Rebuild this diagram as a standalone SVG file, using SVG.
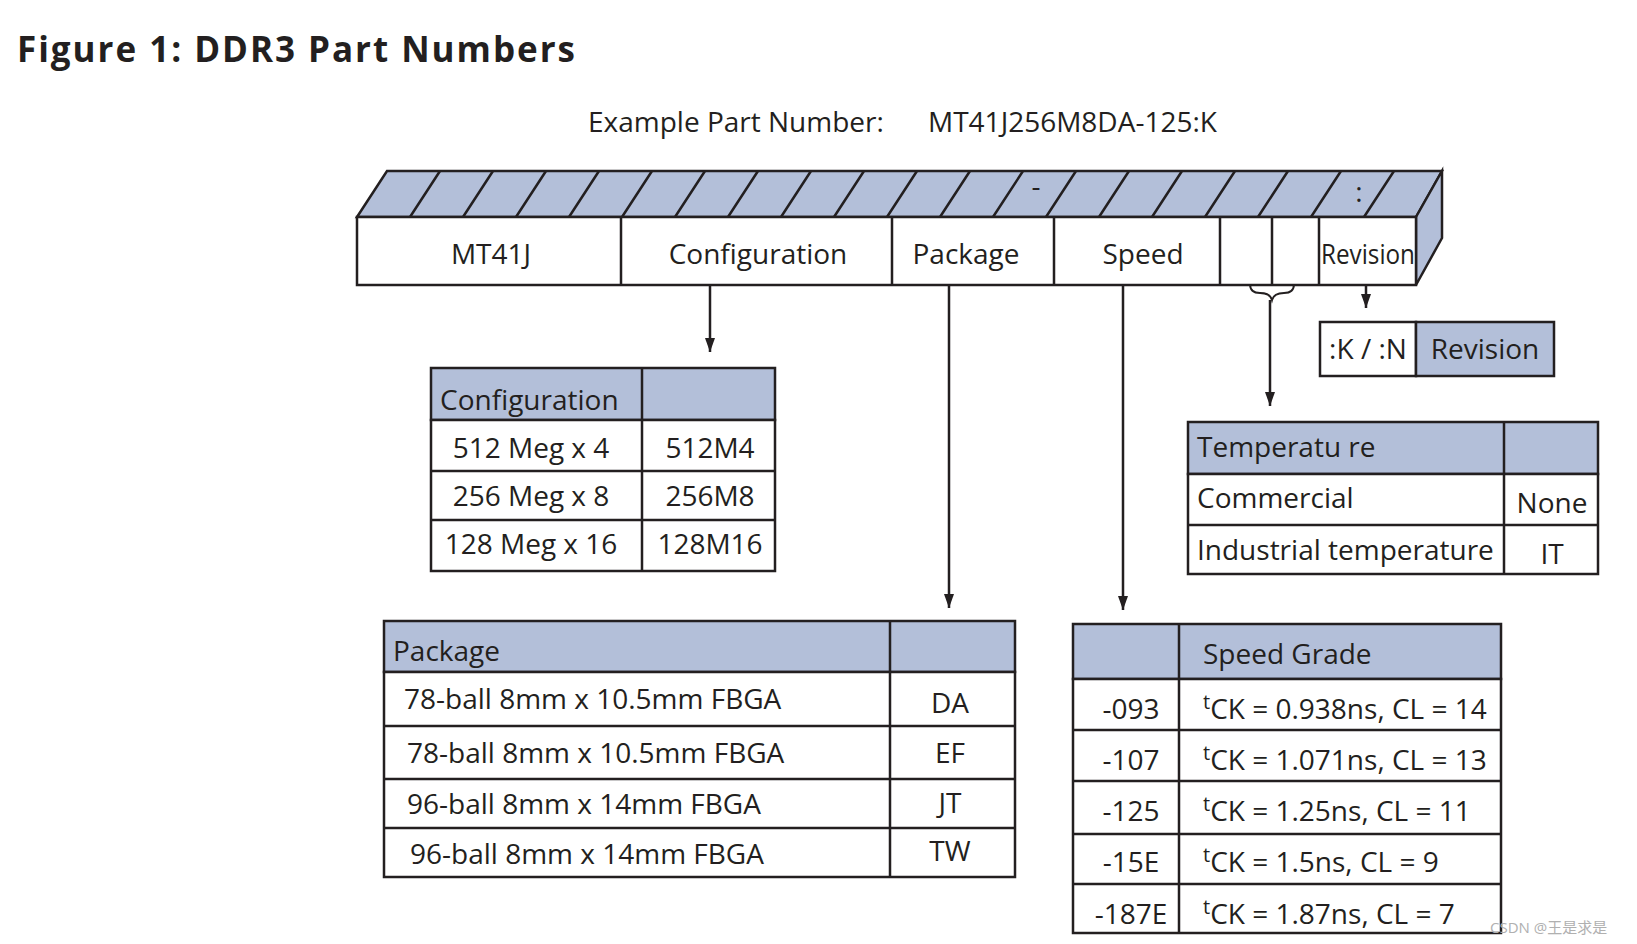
<svg xmlns="http://www.w3.org/2000/svg" width="1637" height="944" viewBox="0 0 1637 944">
<style>
text{font-family:"Open Sans","Noto Sans",sans-serif;fill:#231f20;font-size:28px}
.ln{stroke:#231f20;stroke-width:2.5;fill:none}
.bx{stroke:#231f20;stroke-width:2.5;fill:#fff}
.bl{stroke:#231f20;stroke-width:2.5;fill:#b3bfd9}
.c{text-anchor:middle}
</style>
<defs><marker id="ah" markerWidth="10" markerHeight="12" refX="5" refY="12" orient="auto" markerUnits="userSpaceOnUse"><path d="M0,0 L10,0 L5,12 Z" transform="rotate(-90 5 6) translate(0 0)" fill="#231f20"/></marker>
<marker id="a" viewBox="0 0 10 14" markerWidth="10" markerHeight="14" refX="5" refY="14" orient="0" markerUnits="userSpaceOnUse"><path d="M0,0 L10,0 L5,14 Z" fill="#231f20"/></marker></defs>
<rect width="1637" height="944" fill="#fff"/>
<text x="17" y="62" style="font-weight:bold;font-size:35px" textLength="558">Figure 1: DDR3 Part Numbers</text>
<text x="588" y="132">Example Part Number:</text>
<text x="928" y="132">MT41J256M8DA-125:K</text>
<g id="partbar">
<polygon class="bl" points="357,217 387,171 1442,171 1416,217"/>
<polygon class="bl" points="1416,217 1442,171 1442,238 1416,285"/>
<path class="ln" d="M410,217l30,-46M463,217l30,-46M516,217l30,-46M569,217l30,-46M622,217l30,-46M675,217l30,-46M728,217l30,-46M781,217l30,-46M834,217l30,-46M887,217l30,-46M940,217l30,-46M993,217l30,-46M1046,217l30,-46M1099,217l30,-46M1152,217l30,-46M1205,217l30,-46M1258,217l30,-46M1311,217l30,-46M1364,217l30,-46"/>
<text x="1036" y="196" class="c">-</text>
<text x="1359" y="202" class="c">:</text>
<rect class="bx" x="357" y="217" width="1059" height="68"/>
<path class="ln" d="M621,217V285M892,217V285M1054,217V285M1220,217V285M1272,217V285M1319,217V285"/>
<text x="491" y="264" class="c">MT41J</text>
<text x="758" y="264" class="c">Configuration</text>
<text x="966" y="264" class="c">Package</text>
<text x="1143" y="264" class="c">Speed</text>
<text x="1368" y="264" class="c" textLength="94" lengthAdjust="spacingAndGlyphs">Revision</text>
<path class="ln" d="M1250,284q0,9 10,9q10,0 12,7q2,-7 12,-7q10,0 10,-9" style="stroke-width:2"/>
</g>
<g id="connectors">
<path class="ln" d="M710,286V352" marker-end="url(#a)"/>
<path class="ln" d="M949,286V608" marker-end="url(#a)"/>
<path class="ln" d="M1123,286V610" marker-end="url(#a)"/>
<path class="ln" d="M1270,300V406" marker-end="url(#a)"/>
<path class="ln" d="M1366,286V308" marker-end="url(#a)"/>
</g>
<g id="revision">
<rect class="bx" x="1320" y="322" width="96" height="54"/>
<rect class="bl" x="1416" y="322" width="138" height="54"/>
<text x="1368" y="359" class="c">:K / :N</text>
<text x="1485" y="359" class="c">Revision</text>
</g>
<g id="config">
<rect class="bl" x="431" y="368" width="344" height="52"/>
<rect class="bx" x="431" y="420" width="344" height="151"/>
<path class="ln" d="M642,368V571M431,471H775M431,520H775"/>
<text x="440" y="410">Configuration</text>
<text x="531" y="458" class="c">512 Meg x 4</text><text x="710" y="458" class="c">512M4</text>
<text x="531" y="506" class="c">256 Meg x 8</text><text x="710" y="506" class="c">256M8</text>
<text x="531" y="554" class="c">128 Meg x 16</text><text x="710" y="554" class="c">128M16</text>
</g>
<g id="package">
<rect class="bl" x="384" y="621" width="631" height="51"/>
<rect class="bx" x="384" y="672" width="631" height="205"/>
<path class="ln" d="M890,621V877M384,726H1015M384,779H1015M384,828H1015"/>
<text x="393" y="661">Package</text>
<text x="404" y="709">78-ball 8mm x 10.5mm FBGA</text><text x="950" y="713" class="c">DA</text>
<text x="407" y="763">78-ball 8mm x 10.5mm FBGA</text><text x="950" y="763" class="c">EF</text>
<text x="407" y="814">96-ball 8mm x 14mm FBGA</text><text x="950" y="813" class="c">JT</text>
<text x="410" y="864">96-ball 8mm x 14mm FBGA</text><text x="950" y="861" class="c">TW</text>
</g>
<g id="temperature">
<rect class="bl" x="1188" y="422" width="410" height="52"/>
<rect class="bx" x="1188" y="474" width="410" height="100"/>
<path class="ln" d="M1504,422V574M1188,525H1598"/>
<text x="1197" y="457">Temperatu  re</text>
<text x="1197" y="508">Commercial</text><text x="1552" y="513" class="c">None</text>
<text x="1197" y="560">Industrial temperature</text><text x="1552" y="564" class="c">IT</text>
</g>
<g id="speed">
<rect class="bl" x="1073" y="624" width="428" height="55"/>
<rect class="bx" x="1073" y="679" width="428" height="254"/>
<path class="ln" d="M1179,624V933M1073,730H1501M1073,781H1501M1073,834H1501M1073,884H1501"/>
<text x="1203" y="664">Speed Grade</text>
<text x="1131" y="719" class="c">-093</text><text x="1203" y="719"><tspan dy="-10" font-size="20">t</tspan><tspan dy="10">CK = 0.938ns, CL = 14</tspan></text>
<text x="1131" y="770" class="c">-107</text><text x="1203" y="770"><tspan dy="-10" font-size="20">t</tspan><tspan dy="10">CK = 1.071ns, CL = 13</tspan></text>
<text x="1131" y="821" class="c">-125</text><text x="1203" y="821"><tspan dy="-10" font-size="20">t</tspan><tspan dy="10">CK = 1.25ns, CL = 11</tspan></text>
<text x="1131" y="872" class="c">-15E</text><text x="1203" y="872"><tspan dy="-10" font-size="20">t</tspan><tspan dy="10">CK = 1.5ns, CL = 9</tspan></text>
<text x="1131" y="924" class="c">-187E</text><text x="1203" y="924"><tspan dy="-10" font-size="20">t</tspan><tspan dy="10">CK = 1.87ns, CL = 7</tspan></text>
</g>
<text x="1490" y="933" style="font-size:15px;fill:#b0b0b0;font-family:'Open Sans','Noto Sans CJK SC',sans-serif">CSDN @王是求是</text>
</svg>
